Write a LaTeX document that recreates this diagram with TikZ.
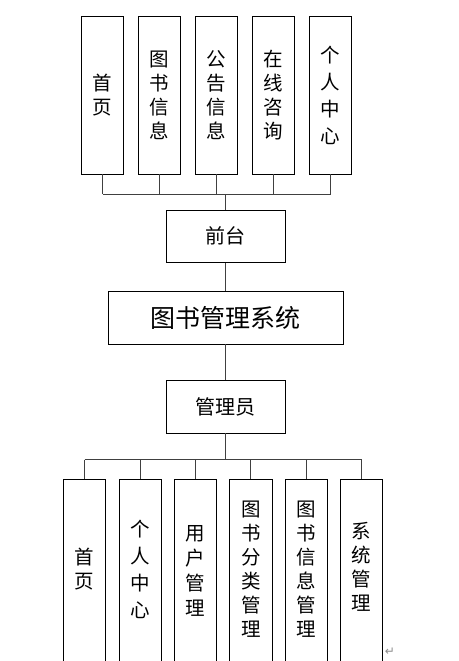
\documentclass[tikz,border=0pt]{standalone}
\usepackage{fontspec}
\setmainfont{Noto Sans CJK SC}
\newfontfamily\symfont{DejaVu Sans}
\begin{document}
\begin{tikzpicture}[x=1pt,y=-1pt,
  box/.style={draw=black,line width=0.8pt,rectangle,inner sep=0pt},
  tbox/.style={box,minimum width=42pt,minimum height=158pt},
  bbox/.style={box,minimum width=42.4pt,minimum height=220pt},
  mbox/.style={box,minimum width=119pt,minimum height=52.7pt,font=\fontsize{20pt}{24pt}\selectfont},
  vtext/.style={inner sep=0pt,align=center,font=\fontsize{19.5pt}{24pt}\selectfont},
  vtextw/.style={inner sep=0pt,align=center,font=\fontsize{19.5pt}{27pt}\selectfont},
  conn/.style={draw=black!75,line width=0.8pt}]
\useasboundingbox (0,0) rectangle (458,661);
\clip (0,0) rectangle (458,661);
% top row
\node[tbox,vtext] (t1) at (102.7,95) {首\\页};
\node[tbox,vtext] (t2) at (159.5,95) {图\\书\\信\\息};
\node[tbox,vtext] (t3) at (216.7,95) {公\\告\\信\\息};
\node[tbox,vtext] (t4) at (273.7,95) {在\\线\\咨\\询};
\node[tbox,vtextw] (t5) at (330.5,95) {个\\人\\中\\心};
% middle
\node[mbox] (qt) at (225.8,236.3) {前台};
\node[box,minimum width=235pt,minimum height=52.7pt,font=\fontsize{25pt}{30pt}\selectfont] (sys) at (225.8,317.7) {图书管理系统};
\node[mbox] (gly) at (225.8,406.7) {管理员};
% bottom row boxes
\node[bbox] (b1) at (84.5,589.7) {};
\node[bbox] (b2) at (140.2,589.7) {};
\node[bbox] (b3) at (195.5,589.7) {};
\node[bbox] (b4) at (250.8,589.7) {};
\node[bbox] (b5) at (306.2,589.7) {};
\node[bbox] (b6) at (361.5,589.7) {};
\node[vtext] (b1t) at (84.5,569) {首\\页};
\node[vtextw] (b2t) at (140.2,569) {个\\人\\中\\心};
\node[vtextw,font=\fontsize{19.5pt}{25pt}\selectfont] (b3t) at (195.5,571) {用\\户\\管\\理};
\node[vtext] (b4t) at (250.8,569) {图\\书\\分\\类\\管\\理};
\node[vtext] (b5t) at (306.2,569) {图\\书\\信\\息\\管\\理};
\node[vtext] (b6t) at (361.5,567) {系\\统\\管\\理};
% connectors top
\coordinate (bus1) at (225.8,194);
\foreach \n in {t1,t2,t3,t4,t5} \draw[conn] (\n.south) -- (\n.south |- bus1);
\draw[conn] (t1.south |- bus1) -- (t5.south |- bus1);
\draw[conn] (bus1) -- (qt.north);
\draw[conn] (qt.south) -- (sys.north);
\draw[conn] (sys.south) -- (gly.north);
% connectors bottom
\coordinate (bus2) at (225.8,459.7);
\draw[conn] (gly.south) -- (bus2);
\draw[conn] (b1.north |- bus2) -- (b6.north |- bus2);
\foreach \n in {b1,b2,b3,b4,b5,b6} \draw[conn] (\n.north |- bus2) -- (\n.north);
\node[inner sep=0pt,text=black!45,font=\symfont\fontsize{12pt}{12pt}\selectfont] (ret) at (390,652) {↵};
\end{tikzpicture}
\end{document}
